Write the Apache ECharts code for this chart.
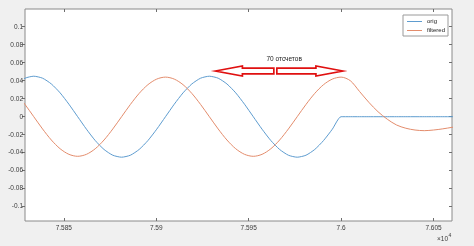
<!DOCTYPE html>
<html>
<head>
<meta charset="utf-8">
<script src="https://cdn.jsdelivr.net/npm/echarts@6/dist/echarts.min.js"></script>
<style>
html,body{margin:0;padding:0;background:#f0f0f0;}
#c{width:474px;height:246px;}
</style>
</head>
<body>
<div id="c"></div>
<script>
// sample index positions (x axis)
const samples = [75824.25,75829,75833.75,75838.5,75843.25,75848,75852.75,75857.5,75862.25,75867,75871.75,75876.5,75881.25,75886,75890.75,75895.5,75900.25,75905,75909.75,75914.5,75919.25,75924,75928.75,75933.5,75938.25,75943,75947.75,75952.5,75957.25,75962,75966.75,75971.5,75976.25,75981,75985.75,75990.5,75995.25,76000,76005,76010,76015,76020,76025,76030,76035,76040,76045,76050,76055,76060,76065];
const origValues = [0.0364,0.0428,0.045,0.0428,0.0364,0.0265,0.0139,0,-0.0139,-0.0265,-0.0364,-0.0428,-0.045,-0.0428,-0.0364,-0.0265,-0.0139,0,0.0139,0.0265,0.0364,0.0428,0.045,0.0428,0.0364,0.0265,0.0139,0,-0.0139,-0.0265,-0.0364,-0.0428,-0.045,-0.0428,-0.0364,-0.0265,-0.0139,0,0,0,0,0,0,0,0,0,0,0,0,0,0];
const filteredValues = [0.0259,0.0136,0,-0.0136,-0.0259,-0.0356,-0.0418,-0.044,-0.0418,-0.0356,-0.0259,-0.0136,0,0.0136,0.0259,0.0356,0.0418,0.044,0.0418,0.0356,0.0259,0.0136,0,-0.0136,-0.0259,-0.0356,-0.0418,-0.044,-0.0418,-0.0356,-0.0259,-0.0136,0,0.0136,0.0259,0.0356,0.0418,0.044,0.0400,0.0280,0.0160,0.0055,-0.0028,-0.0092,-0.0128,-0.0148,-0.0155,-0.0148,-0.0135,-0.0118,-0.0100];
const seriesNames = ['orig','filtered'];
const xTicks = [75850,75900,75950,76000,76050];
const xTickLabels = ['7.585','7.59','7.595','7.6','7.605'];
const yTicks = [-0.1,-0.08,-0.06,-0.04,-0.02,0,0.02,0.04,0.06,0.08,0.1];
const yTickLabels = ['-0.1','-0.08','-0.06','-0.04','-0.02','0','0.02','0.04','0.06','0.08','0.1'];
const annotationText = '70 отсчетов';
const arrowFrom = 75932, arrowTo = 76001, arrowLevel = 0.0508;

const X_MIN = 75829, X_MAX = 76060, Y_MIN = -0.1159, Y_MAX = 0.1197;
const FONT = '"Liberation Sans", Arial, sans-serif';
function lab(ticks, labels){ return v => { for (let i=0;i<ticks.length;i++){ if (Math.abs(ticks[i]-v) < 1e-9) return labels[i]; } return ''; }; }

const chart = echarts.init(document.getElementById('c'), null, {renderer:'canvas'});
const tickColor = '#6e6e6e';
const blue = '#5e9ccf', red = '#e38c6c';
function tickAxis(extra){ return Object.assign({axisLine:{show:false, onZero:false}, splitLine:{show:false}}, extra); }
const option = {
  backgroundColor: '#f0f0f0',
  animation: false,
  textStyle: {fontFamily: FONT},
  grid: {left:25, right:22, top:9, bottom:25, show:true, backgroundColor:'#ffffff', borderColor:'#8a8a8a', borderWidth:1},
  legend: {
    orient:'vertical', left:403, top:15, padding:[3,3,2,4], itemGap:2,
    icon:'rect', itemWidth:15, itemHeight:1, backgroundColor:'#ffffff', borderColor:'#9a9a9a', borderWidth:1,
    textStyle:{fontSize:6, color:'#222', fontFamily:FONT, lineHeight:7},
    data: seriesNames
  },
  xAxis: [
    tickAxis({type:'value', min:X_MIN, max:X_MAX, position:'bottom',
     axisTick:{show:true, inside:true, length:3, customValues:xTicks, lineStyle:{color:tickColor}},
     axisLabel:{customValues:xTicks, formatter:lab(xTicks,xTickLabels), fontSize:6.5, color:'#3a3a3a', margin:4, fontFamily:FONT}}),
    tickAxis({type:'value', min:X_MIN, max:X_MAX, position:'top',
     axisTick:{show:true, inside:true, length:3, customValues:xTicks, lineStyle:{color:tickColor}},
     axisLabel:{show:false}})
  ],
  yAxis: [
    tickAxis({type:'value', min:Y_MIN, max:Y_MAX, position:'left',
     axisTick:{show:true, inside:false, length:3, customValues:yTicks, lineStyle:{color:tickColor}},
     axisLabel:{customValues:yTicks, formatter:lab(yTicks,yTickLabels), fontSize:6.5, color:'#3a3a3a', margin:2, fontFamily:FONT}}),
    tickAxis({type:'value', min:Y_MIN, max:Y_MAX, position:'right',
     axisTick:{show:true, inside:true, length:3, customValues:yTicks, lineStyle:{color:tickColor}},
     axisLabel:{show:false}})
  ],
  series: [
    {name:seriesNames[0], type:'line', xAxisIndex:0, yAxisIndex:0, symbol:'none', smooth:0.22, clip:true,
     lineStyle:{width:1, color:blue}, itemStyle:{color:blue},
     data: samples.map((s,i)=>[s, origValues[i]])},
    {name:seriesNames[1], type:'line', xAxisIndex:0, yAxisIndex:0, symbol:'none', smooth:0.3, clip:true,
     lineStyle:{width:1, color:red}, itemStyle:{color:red},
     data: samples.map((s,i)=>[s, filteredValues[i]])}
  ]
};
chart.setOption(option);

const pL = chart.convertToPixel({xAxisIndex:0, yAxisIndex:0}, [arrowFrom, arrowLevel]);
const pR = chart.convertToPixel({xAxisIndex:0, yAxisIndex:0}, [arrowTo, arrowLevel]);
const y = pL[1], x1 = pL[0], x2 = pR[0];
const gapC = x1 + 0.47*(x2-x1), hl = 27, hh = 5, sh = 2.8;
const stroke = {fill:'#ffffff', stroke:'#e01010', lineWidth:1.7};
const leftArrow = [[x1,y],[x1+hl,y-hh],[x1+hl,y-sh],[gapC-1.5,y-sh],[gapC-1.5,y+sh],[x1+hl,y+sh],[x1+hl,y+hh]];
const rightArrow = [[x2,y],[x2-hl,y-hh],[x2-hl,y-sh],[gapC+1.5,y-sh],[gapC+1.5,y+sh],[x2-hl,y+sh],[x2-hl,y+hh]];
chart.setOption({
  graphic: [
    {type:'polygon', shape:{points:leftArrow}, style:stroke, z:100},
    {type:'polygon', shape:{points:rightArrow}, style:stroke, z:100},
    {type:'text', x:(x1+x2)/2 + 5, y:y-12, style:{text:annotationText, font:'6.5px '+FONT, fill:'#222', align:'center', verticalAlign:'middle'}, z:100},
    {type:'text', x:437, y:239.5, style:{text:'×10', font:'6.5px '+FONT, fill:'#3a3a3a', align:'left', verticalAlign:'middle'}, z:100},
    {type:'text', x:448.5, y:236, style:{text:'4', font:'5px '+FONT, fill:'#3a3a3a', align:'left', verticalAlign:'middle'}, z:100}
  ]
});
</script>
</body>
</html>
